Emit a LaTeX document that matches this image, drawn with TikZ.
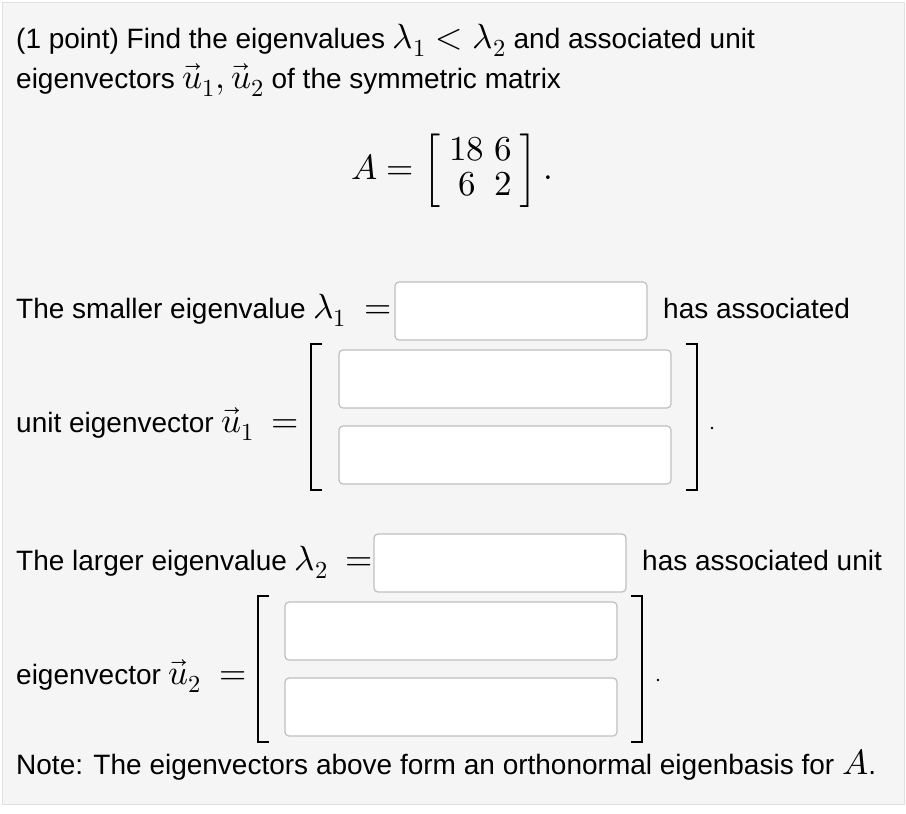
\documentclass[tikz,border=0pt]{standalone}
\usepackage{amsmath}
\usepackage{fontspec}
\usepackage{unicode-math}
\setmainfont{Liberation Sans}
\setmathfont{Latin Modern Math}[Scale=1.25]
\begin{document}
\begin{tikzpicture}[x=1pt,y=-1pt,
  txt/.style={anchor=base west,inner sep=0pt,font=\fontsize{28}{33}\selectfont},
  ibox/.style={draw=black!25,fill=white,rounded corners=4pt,line width=1.2pt},
  brk/.style={line width=1.5pt}]
\useasboundingbox (0,0) rectangle (906,814);
\fill[white] (0,0) rectangle (906,814);
\draw[fill=black!4,draw=black!12,line width=1pt] (2,2) rectangle (904,804);
\node[txt] (l1) at (16,48) {(1 point) Find the eigenvalues $\lambda_1<\lambda_2$ and associated unit};
\node[txt] (l2) at (16,88) {eigenvectors $\vec{u}_1,\vec{u}_2$ of the symmetric matrix};
\node[txt,anchor=center] (mat) at (452,171) {$A=\left[\begin{array}{@{\hspace{8pt}}cc@{\hspace{8pt}}}18&6\\[2pt]6&2\end{array}\right].$};
\node[txt] (s1) at (16,318) {The smaller eigenvalue $\lambda_1\ =$};
\draw[ibox] (395,282) rectangle (647,340);
\node[txt] (h1) at (663,318) {has associated};
\node[txt] (v1) at (16,432) {unit eigenvector $\vec{u}_1\ =$};
\draw[ibox] (339,350) rectangle (671,408);
\draw[ibox] (339,426) rectangle (671,484);
\draw[brk] (322,344) -- (311,344) -- (311,490) -- (322,490);
\draw[brk] (686,344) -- (697,344) -- (697,490) -- (686,490);
\fill (712,428) circle (1.3);
\node[txt] (s2) at (16,570) {The larger eigenvalue $\lambda_2\ =$};
\draw[ibox] (374,534) rectangle (626,592);
\node[txt] (h2) at (642,570) {has associated unit};
\node[txt] (v2) at (16,684) {eigenvector $\vec{u}_2\ =$};
\draw[ibox] (285,602) rectangle (617,660);
\draw[ibox] (285,678) rectangle (617,736);
\draw[brk] (269,596) -- (258,596) -- (258,742) -- (269,742);
\draw[brk] (631,596) -- (642,596) -- (642,742) -- (631,742);
\fill (658,680) circle (1.3);
\node[txt] (n) at (16,774) {Note: The eigenvectors above form an orthonormal eigenbasis for $A$.};
\end{tikzpicture}
\end{document}
